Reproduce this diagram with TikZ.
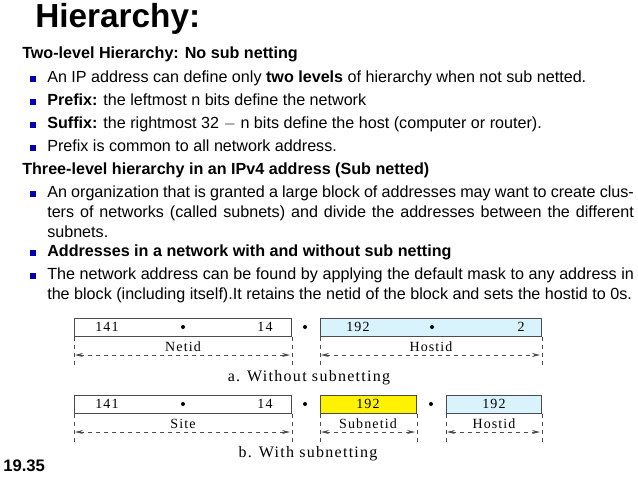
\documentclass[tikz,border=0pt]{standalone}
\usepackage{fontspec}
\setmainfont{Liberation Sans}
\newfontfamily\serf[LetterSpace=8]{Liberation Serif}
\usetikzlibrary{arrows.meta}
\begin{document}
\begin{tikzpicture}[x=0.75pt,y=-0.75pt,
  txt/.style={anchor=north west,inner sep=0pt,font=\fontsize{12.1}{15}\selectfont},
  para/.style={txt,text width=440pt,align=justify},
  bul/.style={fill=blue!70!black,minimum size=4.5pt,inner sep=0pt},
  fld/.style={draw=black!70,line width=0.8pt,minimum height=13.5pt,inner sep=0pt},
  dl/.style={dashed,black!70,line width=0.6pt},
  da/.style={dashed,black!70,line width=0.6pt,{Stealth[length=6pt,width=3pt]}-{Stealth[length=6pt,width=3pt]}},
  sf/.style={font=\serf\fontsize{10.5}{12}\selectfont},
  captext/.style={font=\serf\fontsize{12}{14}\selectfont},
  dot/.style={circle,fill=black,inner sep=0pt,minimum size=3pt}]
\useasboundingbox (0,0) rectangle (638,478);
\node[anchor=west,inner sep=0pt,font=\bfseries\fontsize{25}{28}\selectfont] (title) at (35,19) {Hierarchy:};
\node[txt,font=\bfseries\fontsize{12.1}{15}\selectfont] (h1) at (22,47) {Two-level Hierarchy: No sub netting};
\foreach \y/\t [count=\i] in {71/{An IP address can define only \textbf{two levels} of hierarchy when not sub netted.},
  94/{\textbf{Prefix:} the leftmost n bits define the network},
  117/{\textbf{Suffix:} the rightmost 32 $-$ n bits define the host (computer or router).},
  140/{Prefix is common to all network address.}}{
  \node[bul] (b\i) at (33,\y+8) {};
  \node[txt] (t\i) at (47,\y) {\t};
}
\node[txt,font=\bfseries\fontsize{12.1}{15}\selectfont] (h2) at (22,163) {Three-level hierarchy in an IPv4 address (Sub netted)};
\node[bul] (b5) at (33,194) {};
\node[para] (t5) at (47,186) {An organization that is granted a large block of addresses may want to create clusters of networks (called subnets) and divide the addresses between the different subnets.};
\node[bul] (b6) at (33,253) {};
\node[txt] (t6) at (47,245) {\textbf{Addresses in a network with and without sub netting}};
\node[bul] (b7) at (33,276) {};
\node[para] (t7) at (47,268) {The network address can be found by applying the default mask to any address in the block (including itself).It retains the netid of the block and sets the hostid to 0s.};
\node[anchor=west,inner sep=0pt,font=\bfseries\fontsize{12.5}{14}\selectfont] (pg) at (3,466) {19.35};
% row a
\node[fld,minimum width=162.75pt,anchor=north west] (a1) at (74,318) {};
\node[fld,minimum width=165.75pt,anchor=north west,fill=cyan!15] (a2) at (320,318) {};
\node[sf] at (107,327) {141}; \node[dot] at (183,327) {}; \node[sf] at (265,327) {14};
\node[dot] (ad) at (305,327) {};
\node[sf] at (358,327) {192}; \node[dot] at (432,327) {}; \node[sf] at (521,327) {2};
\draw[dl] (a1.south west) -- ++(0,29); \draw[dl] (a1.south east) -- ++(0,29);
\draw[dl] (a2.south west) -- ++(0,29); \draw[dl] (a2.south east) -- ++(0,29);
\draw[da] (75,355) -- (290,355); \draw[da] (321,355) -- (540,355);
\node[sf] at (183,347) {Netid}; \node[sf] at (431,347) {Hostid};
\node[captext] at (309,378) {a. Without subnetting};
% row b
\node[fld,minimum width=162.75pt,anchor=north west] (c1) at (74,395) {};
\node[fld,minimum width=72pt,anchor=north west,fill=yellow] (c2) at (320,395) {};
\node[fld,minimum width=71.25pt,anchor=north west,fill=cyan!15] (c3) at (446,395) {};
\node[sf] at (107,404) {141}; \node[dot] at (183,404) {}; \node[sf] at (265,404) {14};
\node[dot] at (305,404) {};
\node[sf] at (368,404) {192}; \node[dot] at (431,404) {}; \node[sf] at (494,404) {192};
\foreach \n in {c1,c2,c3}{\draw[dl] (\n.south west) -- ++(0,29); \draw[dl] (\n.south east) -- ++(0,29);}
\draw[da] (75,432) -- (290,432); \draw[da] (321,432) -- (415,432); \draw[da] (447,432) -- (540,432);
\node[sf] at (183,424) {Site}; \node[sf] at (368,424) {Subnetid}; \node[sf] at (494,424) {Hostid};
\node[captext] at (308,454) {b. With subnetting};
\end{tikzpicture}
\end{document}
